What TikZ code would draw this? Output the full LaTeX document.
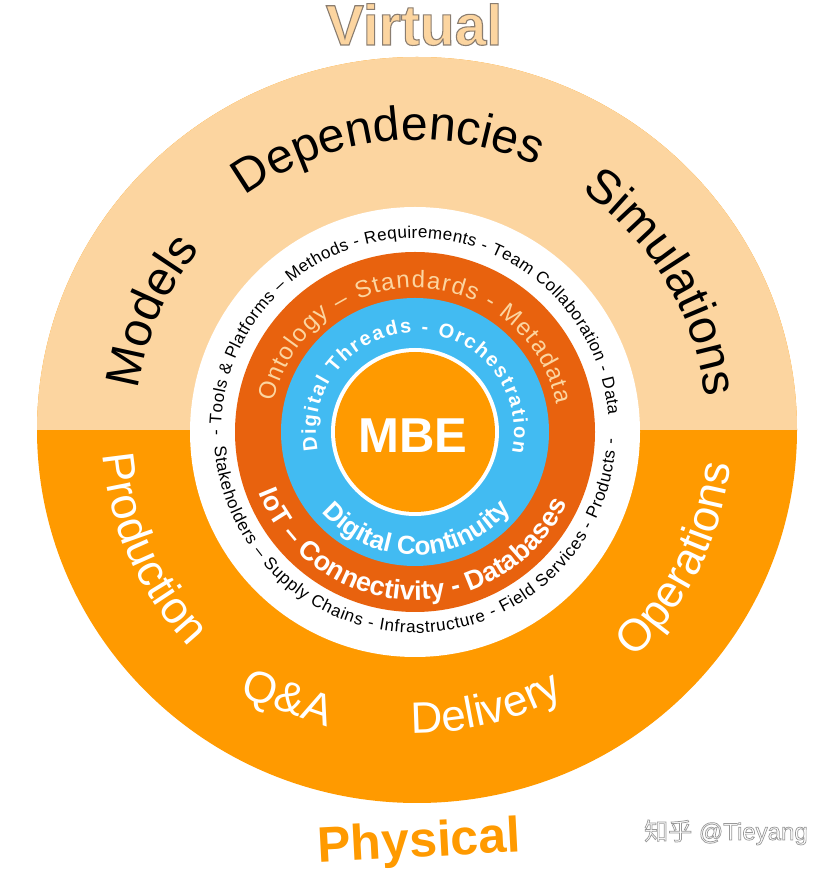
\documentclass[tikz,border=0pt]{standalone}
\usepackage{fontspec}
\setmainfont{Liberation Sans}
\newfontfamily\cjkfont{Noto Sans CJK SC}
\usetikzlibrary{decorations.text,calc}
\definecolor{peach}{HTML}{FCD5A0}
\definecolor{orangeM}{HTML}{FF9A00}
\definecolor{ringorange}{HTML}{E8620E}
\definecolor{ringblue}{HTML}{42BBF2}
\definecolor{virtualedge}{HTML}{8A7D70}
\definecolor{wmgray}{HTML}{9A9A9A}
% outlined text: fill in current colour, stroke in given rgb
\newcommand{\outlinetext}[3]{\special{pdf:literal direct #1 RG 2 Tr #2 w}#3\special{pdf:literal direct 0 Tr}}
\begin{document}
\begin{tikzpicture}[x=1pt,y=1pt]
\useasboundingbox (0,0) rectangle (833,873);
\fill[white] (0,0) rectangle (833,873);
\coordinate (O) at (417,443);
\coordinate (C) at (415,441);
% outer disc
\fill[orangeM] (O) ellipse [x radius=380, y radius=373];
\fill[peach] ($(O)+(380,0)$) arc [start angle=0, end angle=180, x radius=380, y radius=373] -- cycle;
% rings
\fill[white] (C) circle [radius=225];
\fill[ringorange] (C) circle [radius=180];
\fill[ringblue] (C) circle [radius=134];
\fill[white] (C) circle [radius=84];
\fill[orangeM] (C) circle [radius=80];
\node[text=white, font=\fontsize{49}{49}\selectfont\bfseries] (mbe) at (413,437) {MBE};
% white ring texts
\path[decorate, decoration={text along path, text color=black, text align=fit to path,
  text={|\fontsize{17}{17}\selectfont|- Tools {\&} Platforms – Methods - Requirements - Team Collaboration - Data}}]
  ($(C)+(181:194)$) arc [start angle=181, end angle=5, radius=194];
\path[decorate, decoration={text along path, text color=black, text align=fit to path,
  text={|\fontsize{17}{17}\selectfont|Stakeholders – Supply Chains - Infrastructure - Field Services - Products -}}]
  ($(C)+(184:201)$) arc [start angle=184, end angle=358, radius=201];
% dark orange ring texts
\path[decorate, decoration={text along path, text color=peach, text align=fit to path,
  text={|\fontsize{24}{24}\selectfont|Ontology – Standards - Metadata}}]
  ($(C)+(168:144)$) arc [start angle=168, end angle=11, radius=144];
\path[decorate, decoration={text along path, text color=white, text align=center,
  text={|\fontsize{27}{27}\selectfont\bfseries|IoT – Connectivity - Databases}}]
  ($(C)+(178:168)$) arc [start angle=178, end angle=358, radius=168];
% blue ring texts
\path[decorate, decoration={text along path, text color=white, text align=fit to path,
  text={|\fontsize{20}{20}\selectfont\bfseries|Digital Threads - Orchestration}}]
  ($(C)+(191:99)$) arc [start angle=191, end angle=-12, radius=99];
\path[decorate, decoration={text along path, text color=white, text align=center,
  text={|\fontsize{26}{26}\selectfont\bfseries|Digital Continuity}}]
  ($(C)+(191:123)$) arc [start angle=191, end angle=351, radius=123];
% outer upper words
\path[decorate, decoration={text along path, text color=black, text align=center,
  text={|\fontsize{48}{48}\selectfont|Dependencies}}]
  ($(O)+(156:290)$) arc [start angle=156, end angle=36, radius=290];
\path[decorate, decoration={text along path, text color=black, text align=center,
  text={|\fontsize{48}{48}\selectfont|Models}}]
  ($(O)+(196:282)$) arc [start angle=196, end angle=116, radius=282];
\path[decorate, decoration={text along path, text color=black, text align=center,
  text={|\fontsize{48}{48}\selectfont|Simulations}}]
  ($(O)+(91:290)$) arc [start angle=91, end angle=-29, radius=290];
% outer lower words
\path[decorate, decoration={text along path, text color=white, text align=center,
  text={|\fontsize{45}{45}\selectfont|Production}}]
  ($(O)+(174:315)$) arc [start angle=174, end angle=234, radius=315];
\path[decorate, decoration={text along path, text color=white, text align=center,
  text={|\fontsize{45}{45}\selectfont|Operations}}]
  ($(O)+(303.7:315)$) arc [start angle=303.7, end angle=363.7, radius=315];
\node[text=white, rotate=-19, font=\fontsize{44}{44}\selectfont] (qa) at (287,172) {Q\&A};
\path[decorate, decoration={text along path, text color=white, text align=center,
  text={|\fontsize{44}{44}\selectfont|Delivery}}]
  ($(O)+(264:303)$) arc [start angle=264, end angle=304, radius=303];
% titles
\node[anchor=base, rotate=3, text=orangeM, font=\fontsize{50}{50}\selectfont\bfseries] (physical) at (420,16) {Physical};
\node[anchor=base, text=white, font=\fontsize{24}{24}\selectfont] (mark) at (726,33) {\outlinetext{0.6 0.6 0.6}{0.7}{{\cjkfont 知乎} @Tieyang}};
\node[anchor=base, text=peach, font=\fontsize{57}{57}\selectfont\bfseries] (virtual) at (414,828) {\outlinetext{0.54 0.49 0.44}{1.1}{Virtual}};
\end{tikzpicture}
\end{document}
